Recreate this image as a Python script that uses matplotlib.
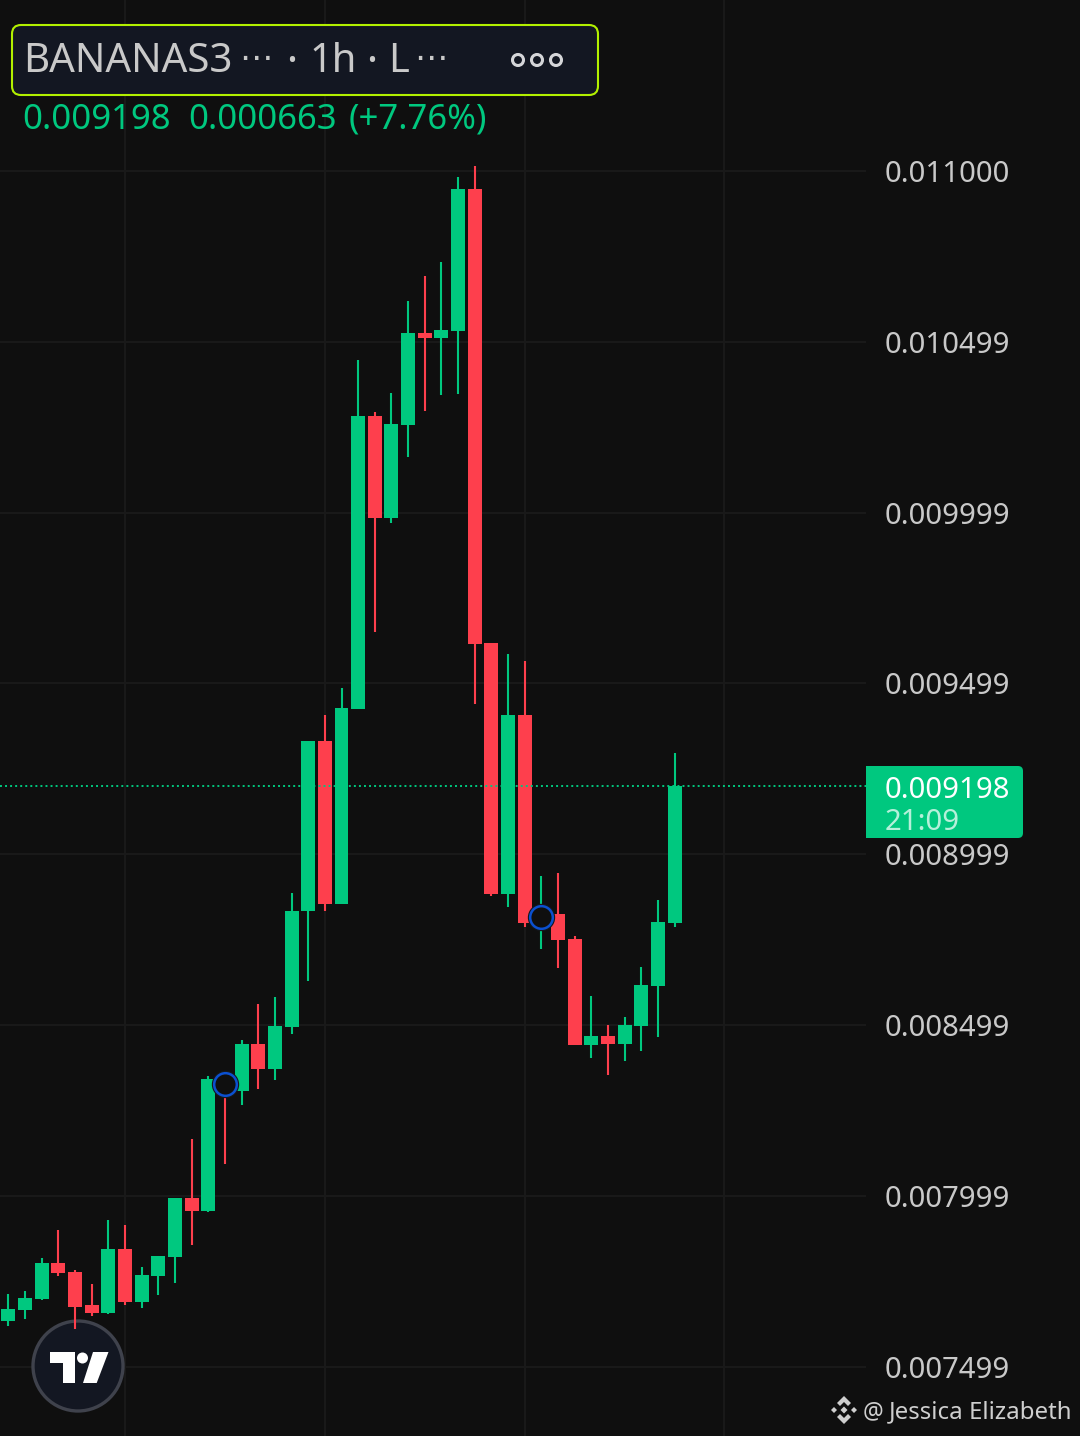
import matplotlib
matplotlib.use("Agg")
import matplotlib.pyplot as plt
import numpy as np
from matplotlib.patches import Circle, FancyBboxPatch, Polygon, Rectangle

# valores (preco x 1e-6)
abertura = [7634, 7666, 7698, 7803, 7777, 7678, 7657, 7844, 7689, 7765, 7821, 7994, 7956, 8339,
            8307, 8444, 8371, 8494, 8834, 9331, 8854, 9425, 10283, 9984, 10256, 10526, 10511,
            10532, 10947, 9618, 8884, 9408, 8799, 8825, 8752, 8441, 8468, 8444, 8497, 8614, 8799]
maximo = [7713, 7721, 7818, 7900, 7783, 7742, 7929, 7915, 7792, 7824, 7994, 8166, 8351, 8354,
          8456, 8561, 8582, 8886, 9331, 9408, 9486, 10447, 10294, 10350, 10619, 10693, 10734,
          10982, 11015, 9618, 9586, 9566, 8936, 8945, 8761, 8585, 8500, 8523, 8670, 8866, 9296]
minimo = [7619, 7637, 7695, 7765, 7610, 7648, 7654, 7678, 7672, 7710, 7745, 7856, 7953, 8093,
          8266, 8312, 8339, 8473, 8629, 8834, 8854, 9425, 9650, 9970, 10163, 10297, 10344,
          10347, 9440, 8878, 8845, 8787, 8723, 8667, 8441, 8401, 8354, 8395, 8424, 8465, 8787]
fechamento = [7669, 7701, 7803, 7774, 7675, 7657, 7844, 7689, 7768, 7824, 7994, 7956, 8342, 8310,
              8444, 8371, 8497, 8834, 9331, 8854, 9428, 10283, 9984, 10259, 10526, 10511, 10535,
              10947, 9615, 8884, 9408, 8799, 8828, 8749, 8441, 8468, 8444, 8500, 8617, 8802, 9198]

marcador_idx = [13, 32]
marcador_preco = [8327, 8814]
grade_x = [7, 19, 31, 43]
ticks_preco = [0.011000, 0.010499, 0.009999, 0.009499, 0.008999, 0.008499, 0.007999, 0.007499]
preco_atual = 0.009198

FUNDO = '#0f0f0f'
GRADE = '#1a1a1a'
VERDE = '#00c87f'
VERMELHO = '#fe3f4d'
TEXTO = '#c9c9c9'

plt.rcParams['font.family'] = ['Noto Sans', 'DejaVu Sans']

fig = plt.figure(figsize=(10.8, 14.36), dpi=100, facecolor=FUNDO)
ax = fig.add_axes([0, 0, 866 / 1080, 1], facecolor=FUNDO)

# camada em pixels, para cabecalho, etiqueta e logo
ov = fig.add_axes([0, 0, 1, 1], facecolor='none')
ov.set_xlim(0, 1080)
ov.set_ylim(1436, 0)
ov.axis('off')

o = np.array(abertura) * 1e-6
h = np.array(maximo) * 1e-6
l = np.array(minimo) * 1e-6
c = np.array(fechamento) * 1e-6
x = np.arange(len(o))
cores = [VERDE if b >= a else VERMELHO for a, b in zip(o, c)]

ax.vlines(x, l, h, colors=cores, linewidth=1.5, zorder=3)
ax.bar(x, np.abs(c - o), bottom=np.minimum(o, c), width=0.84, color=cores, linewidth=0, zorder=4)
ax.axhline(preco_atual, color=VERDE, linewidth=1.4, linestyle=(0, (1, 1.6)), zorder=5)
m_preco = np.array(marcador_preco) * 1e-6
ax.scatter(marcador_idx, m_preco, s=330, facecolor=FUNDO, edgecolor='#14171c', linewidth=1.5, zorder=6)
ax.scatter(marcador_idx, m_preco, s=265, facecolor=FUNDO, edgecolor='#0b50d0', linewidth=1.8, zorder=7)

ax.set_xlim(-0.51, 51.5)
ax.set_ylim(7295.9e-6, 11499.67e-6)
ax.set_xticks(grade_x)
ax.set_yticks(ticks_preco)
ax.set_yticklabels([f'{t:.6f}' for t in ticks_preco])
ax.yaxis.tick_right()
ax.tick_params(axis='y', length=0, pad=13.2, labelsize=21.1, labelcolor=TEXTO)
ax.tick_params(axis='x', length=0, labelbottom=False)
ax.grid(True, color=GRADE, linewidth=1.4, zorder=0)
ax.set_axisbelow(True)
for s in ax.spines.values():
    s.set_visible(False)

# etiqueta do preco
ov.add_patch(FancyBboxPatch((872, 766), 151, 72, boxstyle='round,pad=0,rounding_size=5',
                            facecolor=VERDE, edgecolor='none'))
ov.add_patch(Rectangle((866, 766), 20, 72, facecolor=VERDE, edgecolor='none'))
ov.text(885, 790, f'{preco_atual:.6f}', color='white', fontsize=21.1, va='center')
ov.text(885, 822, '21:09', color='#b5f0da', fontsize=21.1, va='center')

# cabecalho
ov.add_patch(FancyBboxPatch((12, 25), 586, 70, boxstyle='round,pad=0,rounding_size=9',
                            facecolor='#131722', edgecolor='#b2f000', linewidth=1.5))
ov.text(23, 62, 'BANANAS3', color=TEXTO, fontsize=29, va='center')
ov.text(256, 59, '⋯', color=TEXTO, fontsize=24, va='center', ha='center', family='DejaVu Sans')
ov.text(292, 62, '•', color=TEXTO, fontsize=17, va='center', ha='center')
ov.text(309, 62, '1h', color=TEXTO, fontsize=28.6, va='center')
ov.text(372, 62, '•', color=TEXTO, fontsize=17, va='center', ha='center')
ov.text(388, 62, 'L', color=TEXTO, fontsize=28.6, va='center')
ov.text(431, 59, '⋯', color=TEXTO, fontsize=24, va='center', ha='center', family='DejaVu Sans')
for cx in (518, 537, 556):
    ov.add_patch(Circle((cx, 60), 5.5, facecolor='none', edgecolor='#d5d6d9', linewidth=2.2))
ov.text(22, 120, '0.009198', color=VERDE, fontsize=25, va='center')
ov.text(188, 120, '0.000663', color=VERDE, fontsize=25, va='center')
ov.text(349, 120, '(+7.76%)', color=VERDE, fontsize=25, va='center')

# logo fica atras das velas, na frente da grade
ax.add_patch(Circle((78, 1366), 45, facecolor='#131722', edgecolor='#3f424c', linewidth=2.4,
                    transform=ov.transData, zorder=2))
ax.add_patch(Polygon([(50, 1352), (75, 1352), (75, 1383), (63, 1383), (63, 1363), (50, 1363)],
                     facecolor='white', edgecolor='none', transform=ov.transData, zorder=2.5))
ax.add_patch(Circle((82.5, 1358), 5.5, facecolor='white', edgecolor='none',
                    transform=ov.transData, zorder=2.5))
ax.add_patch(Polygon([(93, 1352), (108.5, 1352), (96.7, 1383), (83, 1383)],
                     facecolor='white', edgecolor='none', transform=ov.transData, zorder=2.5))

# marca d'agua
def losango(cx, cy, r):
    return Polygon([(cx - r, cy), (cx, cy - r), (cx + r, cy), (cx, cy + r)],
                   facecolor='#cfcfcf', edgecolor='none')

for cx, cy, r in [(844, 1410, 3.5), (834, 1410, 3), (854, 1410, 3)]:
    ov.add_patch(losango(cx, cy, r))
ov.add_patch(Polygon([(844, 1396), (851, 1403), (848, 1406), (844, 1402), (840, 1406), (837, 1403)],
                     facecolor='#cfcfcf', edgecolor='none'))
ov.add_patch(Polygon([(844, 1424), (851, 1417), (848, 1414), (844, 1418), (840, 1414), (837, 1417)],
                     facecolor='#cfcfcf', edgecolor='none'))
ov.text(863, 1412, '@', color='#cfcfcf', fontsize=16.5, va='center')
ov.text(889, 1412, 'Jessica Elizabeth', color='#cfcfcf', fontsize=17.3, va='center')

fig.savefig('out.png', dpi=100, facecolor=FUNDO)
